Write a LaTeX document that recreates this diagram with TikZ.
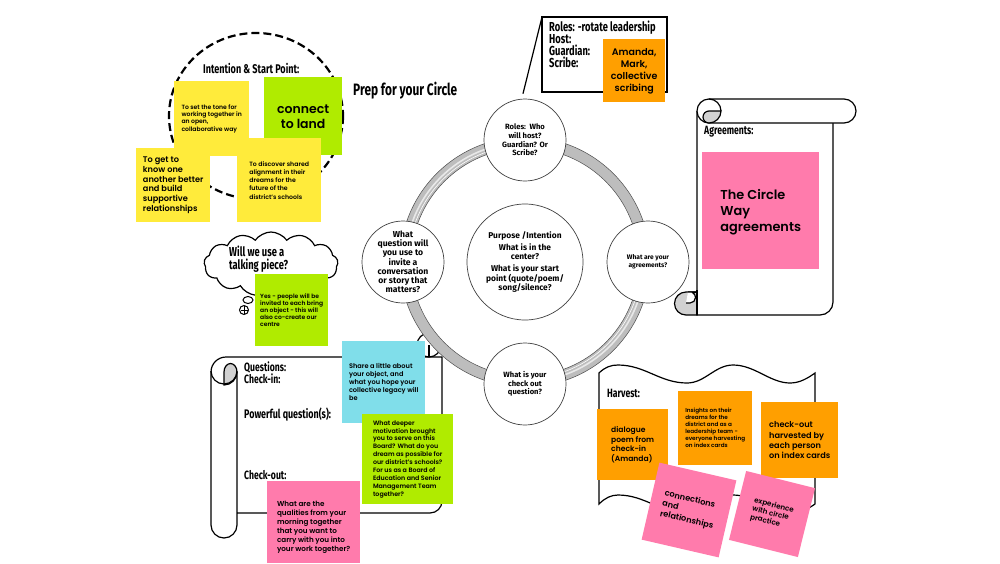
\documentclass[tikz,border=0pt]{standalone}
\usepackage{fontspec}
\usetikzlibrary{shapes.symbols}
\setmainfont{Poppins}[BoldFont={Poppins SemiBold}]
\newfontfamily\handf[FakeStretch=0.72]{Fira Sans}
\newfontfamily\circf{Fira Sans}
\definecolor{cyel}{HTML}{FFEB3B}
\definecolor{cgrn}{HTML}{B0EB00}
\definecolor{cpnk}{HTML}{FF7BAC}
\definecolor{cora}{HTML}{FF9F00}
\definecolor{cblu}{HTML}{80DEEA}
\definecolor{cgry}{HTML}{BDBDBD}
\definecolor{clgt}{HTML}{E8E8E8}
\newcommand{\fs}[2]{\fontsize{#1}{#2}\selectfont}
\tikzset{
  sticky/.style n args={3}{anchor=north west,fill=#1,minimum width=#2,minimum height=#3,inner sep=0pt,align=left,text=black,font=\bfseries},
  stage/.style={circle,draw=black!75,line width=0.7pt,fill=white,inner sep=0pt,align=center,font=\circf\bfseries\fs{7.6}{8.6}},
  hand/.style={anchor=west,inner sep=0pt,align=left,text=black,font=\handf\bfseries\fs{12}{12.4}},
  outline/.style={draw=black,line width=1.2pt,fill=white},
  curl/.style={draw=black,line width=1.2pt,fill=black!18}
}
\begin{document}
\begin{tikzpicture}[x=1pt,y=-1pt]
\useasboundingbox (0,0) rectangle (1000,563);
\fill[white] (0,0) rectangle (1000,563);

% dashed circle
\draw[black,line width=2.2pt,dash pattern=on 8pt off 4pt] (256,116) ellipse [x radius=87,y radius=83];
\node[hand,font=\handf\bfseries\fs{12.6}{13}] (intent) at (203,68) {Intention \& Start Point:};
\node[hand,font=\handf\bfseries\fs{16.5}{17}] (prep) at (353,91) {Prep for your Circle};

% left scroll (angles run clockwise on the page, 90 = down)
\draw[outline] (237,513) -- (430,513) arc[start angle=90,end angle=0,radius=12] -- (442,357) -- (226,357)
  arc[start angle=270,end angle=180,radius=15] -- (211,525) arc[start angle=180,end angle=0,radius=13]
  -- (237,372);
\fill[curl] (224,383) -- (224,372) arc[start angle=180,end angle=360,x radius=6.5,y radius=8.5] -- (237,372) arc[start angle=0,end angle=90,radius=13] -- cycle;
\draw[draw=black,line width=1.2pt,fill=none] (211,371) arc[start angle=180,end angle=0,radius=13];
\draw[draw=black,line width=1.2pt,fill=white] (429,345) circle[radius=12];
\draw[black,line width=1.2pt] (429,345) -- (429,357);
\node[hand] (qhead) at (244,373) {Questions:\\Check-in:};
\node[hand,font=\handf\bfseries\fs{12.4}{13}] (qpow) at (244,415) {Powerful question(s):};
\node[hand] (qout) at (244,475) {Check-out:};

% ring
\fill[cgry,even odd rule,draw=black!70,line width=0.5pt] (525,262) circle[radius=125] (525,262) circle[radius=114];
\draw[clgt,line width=1.6pt] (525,262) ++(180:119.5) arc[start angle=180,end angle=270,radius=119.5];
\draw[clgt,line width=1.6pt] (525,262) ++(0:119.5) arc[start angle=0,end angle=90,radius=119.5];
\draw[white,line width=0.6pt] (525,262) ++(180:116.5) arc[start angle=180,end angle=270,radius=116.5];
\draw[white,line width=0.6pt] (525,262) ++(0:116.5) arc[start angle=0,end angle=90,radius=116.5];

% stage circles
\node[stage,minimum size=116pt,font=\circf\bfseries\fs{8.4}{9.4}] (center) at (525,262) {Purpose /Intention\\[2.6pt]What is in the\\center?\\[2.6pt]What is your start\\point (quote/poem/\\song/silence?};
\node[stage,minimum size=82pt] (roles) at (525,140) {Roles:\ \ Who\\will host?\\Guardian? Or\\Scribe?};
\node[stage,minimum size=82pt,font=\circf\bfseries\fs{8.6}{9.2}] (invite) at (403,262) {What\\question will\\you use to\\invite a\\conversation\\or story that\\matters?};
\node[stage,minimum size=82pt,font=\circf\bfseries\fs{6.6}{7.6}] (agree) at (648,262) {What are your\\agreements?};
\node[stage,minimum size=82pt] (checkout) at (525,384) {What is your\\check out\\question?};

% roles box
\draw[black,line width=1.2pt,fill=white] (542,17) rectangle (667,92);
\coordinate (tailend) at (542,17);
\draw[black,line width=1.2pt] (roles.north) ++(-2,-5) -- (tailend);
\node[hand,font=\handf\bfseries\fs{13}{12}] (rolestext) at (549,44) {Roles: -rotate leadership\\Host:\\Guardian:\\Scribe:};
\node[sticky={cora}{62pt}{63pt},font=\bfseries\fs{9.5}{12}] (rolesnote) at (603,39) {\begin{tabular}{@{}c@{}}\rule{0pt}{10pt}Amanda,\\Mark,\\collective\\scribing\end{tabular}};

% agreements scroll
\draw[outline] (697,111) -- (697,315) -- (820,315) arc[start angle=90,end angle=0,radius=13] -- (833,123);
\draw[outline] (709,99) -- (844,99) arc[start angle=270,end angle=450,radius=12] -- (709,123) arc[start angle=90,end angle=270,radius=12];
\fill[curl] (721,111) arc[start angle=0,end angle=90,radius=12] arc[start angle=90,end angle=270,radius=6] -- cycle;
\draw[black,line width=1.2pt] (709,99) arc[start angle=270,end angle=360,radius=12];
\fill[curl] (697,292) -- (686,292) arc[start angle=270,end angle=90,radius=11.5] -- (697,315) -- cycle;
\draw[black,line width=1.2pt,fill=white] (686,303) -- (690,303) arc[start angle=90,end angle=-60,radius=5.5] -- (697,292) -- (688,292);
\draw[black,line width=1.2pt] (697,290) -- (697,315);
\node[hand,font=\handf\bfseries\fs{12}{12}] (agreetext) at (704,132) {Agreements:};
\node[sticky={cpnk}{117pt}{117pt},font=\bfseries\fs{12.9}{16}] (agreenote) at (702,152) {\rule{0pt}{14pt}The Circle\\Way\\agreements};

% cloud
\node[cloud,draw=black,line width=1.2pt,fill=white,cloud puffs=13,cloud puff arc=110,aspect=2.1,minimum width=134pt,minimum height=64pt,inner sep=0pt] (cloud) at (271,264) {};
\draw[black,line width=1pt,fill=white] (248,300) ellipse[x radius=5,y radius=3.5];
\draw[black,line width=1pt,fill=white] (244,310) circle[radius=4.5];
\draw[black,line width=0.7pt] (240.5,310) -- (247.5,310) (244,306) -- (244,314);
\node[hand,font=\handf\bfseries\fs{13}{12.6}] (cloudtext) at (229,259) {Will we use a\\talking piece?};

% stickies
\node[sticky={cgrn}{78pt}{78pt},font=\bfseries\fs{12.5}{14.6}] (land) at (264,77) {\begin{tabular}{@{}c@{}}\rule{0pt}{14pt}connect\\to land\end{tabular}};
\node[sticky={cyel}{75pt}{75pt},font=\bfseries\fs{6.1}{7.3}] (tone) at (174,81) {To set the tone for\\working together in\\an open,\\collaborative way};
\node[sticky={cyel}{84pt}{84pt},font=\bfseries\fs{6.2}{8.2}] (discover) at (237,138) {To discover shared\\alignment in their\\dreams for the\\future of the\\district's schools};
\node[sticky={cyel}{74pt}{74pt},font=\bfseries\fs{8.2}{9.9}] (know) at (136,148) {To get to\\know one\\another better\\and build\\supportive\\relationships};
\node[sticky={cgrn}{73pt}{72pt},font=\bfseries\fs{6}{7}] (piece) at (255,274) {Yes - people will be\\invited to each bring\\an object - this will\\also co-create our\\centre};
\node[sticky={cblu}{83pt}{82pt},font=\bfseries\fs{6.6}{8}] (share) at (342,341) {Share a little about\\your object, and\\what you hope your\\collective legacy will\\be};
\node[sticky={cgrn}{91pt}{90pt},font=\bfseries\fs{6.3}{7.9}] (deeper) at (362,414) {What deeper\\motivation brought\\you to serve on this\\Board? What do you\\dream as possible for\\our district's schools?\\For us as a Board of\\Education and Senior\\Management Team\\together?};
\node[sticky={cpnk}{93pt}{82pt},font=\bfseries\fs{7.2}{8.9}] (quals) at (267,481) {\rule{0pt}{16pt}What are the\\qualities from your\\morning together\\that you want to\\carry with you into\\your work together?};

% harvest
\draw[outline] (599,373) .. controls (605,367) and (611,365) .. (618,365) .. controls (645,365) and (660,383) .. (687,383)
  .. controls (705,383) and (715,365) .. (733,365) .. controls (755,365) and (770,383) .. (790,383)
  .. controls (800,383) and (808,378) .. (815,373) -- (815,504)
  .. controls (808,509) and (800,513) .. (790,513) .. controls (770,513) and (755,495) .. (733,495)
  .. controls (715,495) and (705,513) .. (687,513) .. controls (660,513) and (645,495) .. (618,495)
  .. controls (611,495) and (605,498) .. (599,504) -- cycle;
\node[hand] (harvesttext) at (607,393) {Harvest:};
\node[sticky={cora}{71pt}{71pt},font=\bfseries\fs{7.6}{9.5}] (poem) at (597,409) {dialogue\\poem from\\check-in\\(Amanda)};
\node[sticky={cora}{74pt}{74pt},font=\bfseries\fs{5.7}{7}] (insights) at (678,391) {Insights on their\\dreams for the\\district and as a\\leadership team -\\everyone harvesting\\on index cards};
\node[sticky={cora}{77pt}{76pt},font=\bfseries\fs{8.2}{10.3}] (harv) at (761,402) {check-out\\harvested by\\each person\\on index cards};
\node[sticky={cpnk}{79pt}{79pt},anchor=center,rotate=-13,font=\bfseries\fs{8.2}{10.4}] (conn) at (689,510) {connections\\and\\relationships};
\node[sticky={cpnk}{71pt}{71pt},anchor=center,rotate=-14,font=\bfseries\fs{7.2}{8.4}] (exper) at (772,514) {experience\\with circle\\practice};
\end{tikzpicture}
\end{document}
